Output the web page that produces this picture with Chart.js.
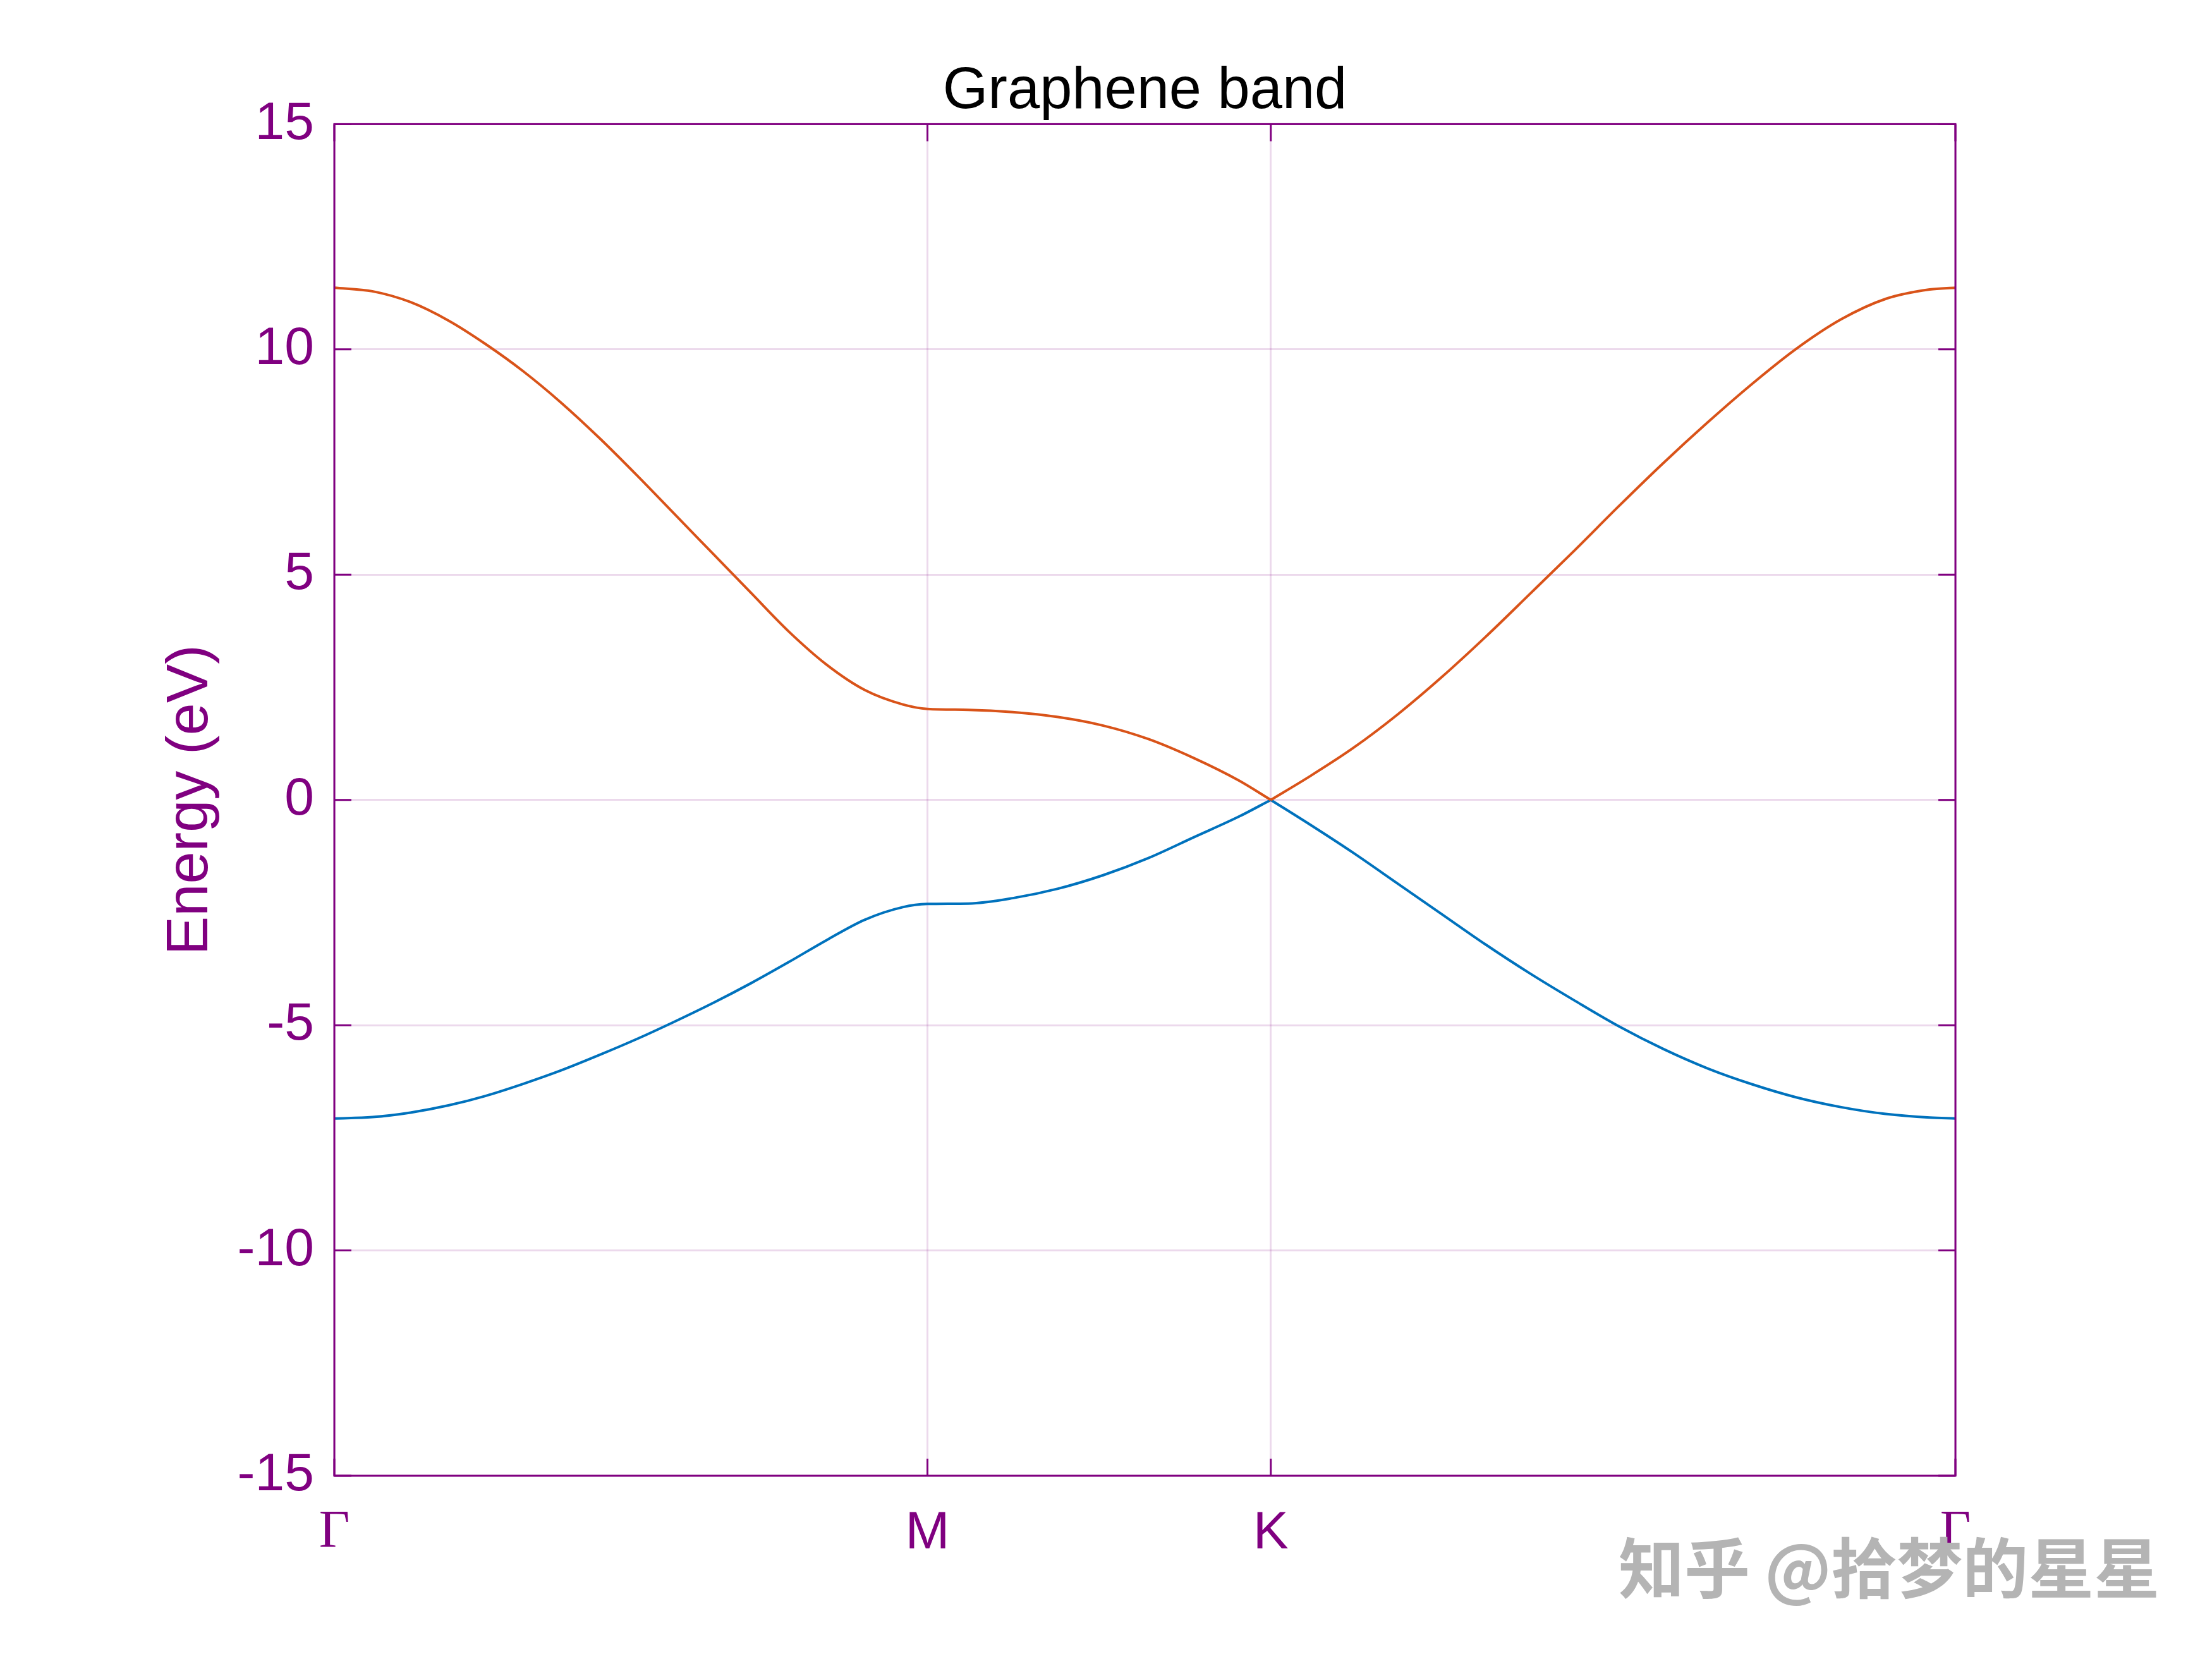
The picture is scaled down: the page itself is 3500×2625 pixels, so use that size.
<!DOCTYPE html>
<html>
<head>
<meta charset="utf-8">
<title>Graphene band</title>
<script src="https://cdn.jsdelivr.net/npm/chart.js@4.4.1/dist/chart.umd.min.js"></script>
<style>
    html, body { margin: 0; padding: 0; background: #ffffff; }
    canvas { display: block; }
</style>
</head>
<body>
<canvas id="band-chart" width="3500" height="2625"></canvas>
<script>
// k-path positions (Γ -> M -> K -> Γ)
const kPath = [
    0, 0.037, 0.074, 0.111, 0.147, 0.184, 0.221, 0.258, 0.295, 0.332, 0.369, 0.406, 0.442, 0.479, 0.516, 0.553, 0.577,
    0.617, 0.660, 0.704, 0.748, 0.792, 0.836, 0.880, 0.911,
    0.948, 0.991, 1.034, 1.077, 1.120, 1.163, 1.207, 1.250, 1.293, 1.336, 1.379, 1.422, 1.466, 1.509, 1.552, 1.577
];

const upperBand = [
    11.37, 11.29, 11.05, 10.64, 10.12, 9.51, 8.81, 8.03, 7.19, 6.32, 5.45, 4.58, 3.74, 3.00, 2.44, 2.12, 2.02,
    2.00, 1.95, 1.84, 1.65, 1.35, 0.93, 0.43, 0,
    0.51, 1.15, 1.89, 2.72, 3.62, 4.57, 5.55, 6.53, 7.48, 8.38, 9.23, 10.01, 10.67, 11.12, 11.33, 11.37
];

const lowerBand = [
    -7.07, -7.04, -6.94, -6.78, -6.57, -6.30, -6.00, -5.66, -5.30, -4.91, -4.50, -4.06, -3.60, -3.11, -2.66, -2.38, -2.31,
    -2.30, -2.18, -1.97, -1.67, -1.29, -0.83, -0.37, 0,
    -0.53, -1.17, -1.85, -2.53, -3.21, -3.85, -4.46, -5.03, -5.53, -5.96, -6.31, -6.60, -6.82, -6.97, -7.05, -7.07
];

const kTicks = [0, 0.577, 0.911, 1.577];
const kLabels = ['Γ', 'M', 'K', 'Γ'];
const yTickMin = -15;
const yTickMax = 15;
const yTickStep = 5;

const AXIS = '#800080';
const GRID = 'rgba(128, 0, 128, 0.15)';
const SANS = '"Liberation Sans", Arial, sans-serif';
const SERIF = '"Liberation Serif", "Times New Roman", serif';
const TICK_LEN = 27;

// split at K so the Dirac crossing stays sharp
const kIndex = kPath.indexOf(kTicks[2]);

function segment(values, from, to) {
    const pts = [];
    for (let i = from; i <= to; i++) {
        pts.push({x: kPath[i], y: values[i]});
    }
    return pts;
}

function bandDataset(values, from, to, color) {
    return {
        data: segment(values, from, to),
        borderColor: color,
        backgroundColor: color,
        borderWidth: 4,
        pointRadius: 0,
        fill: false,
        cubicInterpolationMode: 'monotone'
    };
}

const datasets = [
    bandDataset(upperBand, 0, kIndex, '#D95319'),
    bandDataset(upperBand, kIndex, kPath.length - 1, '#D95319'),
    bandDataset(lowerBand, 0, kIndex, '#0072BD'),
    bandDataset(lowerBand, kIndex, kPath.length - 1, '#0072BD')
];

// box frame, inward ticks and the watermark
const frameTicks = {
    id: 'frameTicks',
    afterDatasetsDraw(chart) {
        const {ctx, chartArea: a, scales: {x, y}} = chart;
        ctx.save();
        ctx.strokeStyle = AXIS;
        ctx.lineWidth = 3;
        ctx.beginPath();
        x.ticks.forEach((t, i) => {
            const px = x.getPixelForTick(i);
            ctx.moveTo(px, a.bottom);
            ctx.lineTo(px, a.bottom - TICK_LEN);
            ctx.moveTo(px, a.top);
            ctx.lineTo(px, a.top + TICK_LEN);
        });
        y.ticks.forEach((t, i) => {
            const py = y.getPixelForTick(i);
            ctx.moveTo(a.left, py);
            ctx.lineTo(a.left + TICK_LEN, py);
            ctx.moveTo(a.right, py);
            ctx.lineTo(a.right - TICK_LEN, py);
        });
        ctx.stroke();
        ctx.strokeRect(a.left, a.top, a.right - a.left, a.bottom - a.top);
        ctx.restore();
    },
    afterDraw(chart) {
        const ctx = chart.ctx;
        ctx.save();
        ctx.font = 'bold 104px "Noto Sans CJK SC", sans-serif';
        ctx.textBaseline = 'alphabetic';
        ctx.textAlign = 'left';
        ctx.fillStyle = '#b4b4b4';
        ctx.fillText('知乎 @拾梦的星星', 2561, 2521);
        ctx.restore();
    }
};

const ctx = document.getElementById('band-chart').getContext('2d');

const bandChart = new Chart(ctx, {
    type: 'line',
    data: { datasets: datasets },
    plugins: [frameTicks],
    options: {
        responsive: false,
        animation: false,
        devicePixelRatio: 1,
        layout: {
            padding: { left: 0, right: 406, top: 0, bottom: 0 }
        },
        plugins: {
            legend: { display: false },
            tooltip: { enabled: false },
            title: {
                display: true,
                text: 'Graphene band',
                color: '#000000',
                fullSize: false,
                font: { family: SANS, size: 92, weight: 'normal' },
                padding: { top: 90, bottom: -4 }
            }
        },
        scales: {
            x: {
                type: 'linear',
                min: kTicks[0],
                max: kTicks[kTicks.length - 1],
                afterBuildTicks: scale => {
                    scale.ticks = kTicks.map(v => ({value: v}));
                },
                afterFit: scale => {
                    scale.height = 290;
                },
                ticks: {
                    autoSkip: false,
                    maxRotation: 0,
                    padding: 41,
                    color: AXIS,
                    callback: (value, index) => kLabels[index],
                    font: context => ({
                        family: context.tick && context.tick.label === 'Γ' ? SERIF : SANS,
                        size: 84
                    })
                },
                grid: {
                    color: GRID,
                    lineWidth: 3,
                    drawTicks: false
                },
                border: { display: false }
            },
            y: {
                min: yTickMin,
                max: yTickMax,
                afterFit: scale => {
                    scale.width = 529;
                },
                ticks: {
                    stepSize: yTickStep,
                    padding: 32,
                    color: AXIS,
                    font: { family: SANS, size: 84 }
                },
                grid: {
                    color: GRID,
                    lineWidth: 3,
                    drawTicks: false
                },
                border: { display: false },
                title: {
                    display: true,
                    text: 'Energy (eV)',
                    color: AXIS,
                    font: { family: SANS, size: 92 },
                    padding: { top: 247, bottom: 0 }
                }
            }
        }
    }
});
</script>
</body>
</html>
